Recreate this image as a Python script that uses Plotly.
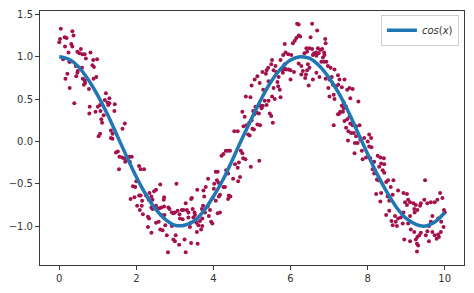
import plotly.graph_objects as go

# Smooth reference curve
line_x = [0, 0.25, 0.5, 0.75, 1.0, 1.25, 1.5, 1.75, 2.0, 2.25, 2.5, 2.75, 3.0, 3.25, 3.5, 3.75,
          4.0, 4.25, 4.5, 4.75, 5.0, 5.25, 5.5, 5.75, 6.0, 6.25, 6.5, 6.75, 7.0, 7.25, 7.5, 7.75,
          8.0, 8.25, 8.5, 8.75, 9.0, 9.25, 9.5, 9.75, 10.0]
line_y = [1.00, 0.97, 0.88, 0.73, 0.54, 0.32, 0.07, -0.18, -0.42, -0.63, -0.80, -0.92, -0.99, -0.99,
          -0.94, -0.82, -0.65, -0.45, -0.21, 0.04, 0.28, 0.51, 0.71, 0.86, 0.96, 1.00, 0.98, 0.89,
          0.75, 0.57, 0.35, 0.10, -0.15, -0.39, -0.60, -0.78, -0.91, -0.98, -1.00, -0.95, -0.84]

# Noisy samples
pts = [
(0.04,1.33),(0.02,1.21),(0.00,1.17),(0.14,1.23),(0.19,1.22),(0.34,1.30),(0.37,1.25),(0.15,1.12),(0.31,1.15),(0.34,1.12),
(0.24,1.05),(0.47,1.06),(0.52,1.04),(0.56,1.09),(0.60,1.03),(0.66,1.03),(0.81,1.05),(0.10,0.97),(0.26,0.94),(0.28,0.94),
(0.43,0.89),(0.69,0.98),(0.88,0.96),(0.98,0.97),(0.86,0.90),(0.90,0.88),(0.59,0.87),(0.48,0.83),(0.47,0.81),(0.21,0.80),
(0.44,0.77),(0.61,0.74),(0.66,0.72),(0.16,0.74),(0.89,0.74),(0.96,0.76),(0.64,0.67),(0.67,0.69),(0.77,0.62),(0.27,0.63),
(1.21,0.57),(1.30,0.51),(1.18,0.49),(1.25,0.46),(1.30,0.45),(1.27,0.43),(1.44,0.44),(0.39,0.45),(0.79,0.41),(0.78,0.33),
(1.00,0.41),(1.06,0.43),(0.94,0.35),(1.07,0.36),(1.15,0.31),(1.09,0.26),(1.11,0.22),(1.43,0.36),(1.70,0.21),(1.64,0.15),
(1.34,0.13),(1.38,0.09),(1.34,0.04),(1.38,0.03),(1.06,0.09),(1.02,0.06),
(1.47,-0.13),(1.52,-0.12),(1.56,-0.18),(1.63,-0.19),(1.68,-0.20),(1.76,-0.22),(1.82,-0.18),(1.88,-0.18),(1.71,-0.24),(1.83,-0.24),
(1.55,-0.33),(2.07,-0.29),(2.11,-0.33),(2.20,-0.33),(1.91,-0.53),(1.97,-0.54),(2.00,-0.47),(1.85,-0.68),(1.95,-0.66),(2.07,-0.64),
(2.11,-0.64),(2.02,-0.76),(2.14,-0.76),(2.15,-0.70),(2.09,-0.81),(2.17,-0.86),(2.25,-0.64),(2.34,-0.61),(2.39,-0.65),(2.42,-0.69),
(2.32,-0.69),(2.51,-0.57),(2.62,-0.51),(2.46,-0.59),(2.39,-0.78),(2.42,-0.80),(2.51,-0.76),(2.55,-0.80),(2.60,-0.79),(2.65,-0.78),
(2.71,-0.69),(2.72,-0.66),(2.72,-0.77),(2.30,-0.89),(2.33,-0.91),(2.30,-1.01),(2.39,-1.08),(2.51,-0.96),(2.58,-0.95),(2.65,-0.87),
(2.73,-0.87),(2.62,-1.04),(2.68,-1.05),(2.75,-0.99),(2.79,-1.11),(2.92,-1.00),(3.00,-0.84),(2.83,-0.78),(2.86,-0.80),(2.92,-0.84),
(2.96,-0.85),(2.82,-1.31),(2.96,-1.16),(3.00,-1.18),(3.11,-1.22),(3.02,-1.11),(3.04,-0.50),(3.07,-0.82),(3.12,-0.86),(3.18,-0.81),
(3.22,-0.81),(3.28,-0.73),(3.31,-0.81),(3.35,-0.84),(3.35,-0.90),(3.39,-1.01),(3.41,-0.96),(3.42,-0.68),(3.25,-1.16),(3.28,-1.31),
(3.42,-1.20),(3.13,-0.91),(3.20,-0.92),
(3.44,-0.67),(3.46,-0.80),(3.51,-0.84),(3.52,-0.87),(3.48,-0.90),(3.56,-0.96),(3.57,-1.07),(3.61,-0.99),(3.65,-0.94),(3.68,-1.04),
(3.71,-1.00),(3.71,-0.91),(3.78,-0.84),(3.70,-0.80),(3.73,-0.76),(3.59,-1.21),(3.58,-0.57),(3.74,-0.58),(3.76,-0.65),(3.80,-0.54),
(3.86,-0.44),(3.85,-0.77),(3.88,-0.88),(3.94,-0.95),(3.97,-0.97),(3.91,-0.81),(3.98,-0.67),(4.01,-0.56),(4.02,-0.50),(4.06,-0.36),
(4.11,-0.36),(4.09,-0.46),(4.13,-0.49),(4.14,-0.65),(4.17,-0.63),(4.06,-0.70),(4.11,-0.85),(4.17,-0.84),(4.21,-0.17),(4.26,-0.15),
(4.32,-0.11),(4.37,-0.11),(4.43,-0.11),(4.33,-0.34),(4.38,-0.38),(4.26,-0.54),(4.30,-0.54),(4.40,-0.64),(4.44,-0.65),(4.38,-0.68),
(4.51,-0.44),(4.56,-0.27),(4.63,-0.31),(4.66,-0.25),(4.71,-0.11),(4.75,-0.14),(4.77,-0.20),(4.83,-0.21),(4.69,-0.42),(4.64,-0.47),
(4.97,-0.30),(5.19,-0.23),
(4.54,0.12),(4.63,0.12),(4.78,0.18),(4.86,0.19),(4.93,0.22),(4.99,0.25),(5.01,0.15),(4.90,0.08),(4.94,0.07),(5.03,0.36),
(5.06,0.32),(5.12,0.34),(5.18,0.33),(5.09,0.41),(5.22,0.42),(5.25,0.39),(5.28,0.42),(5.33,0.48),(5.43,0.48),(5.38,0.43),
(5.46,0.33),(5.50,0.30),(5.54,0.22),(5.14,0.20),(5.21,0.19),(5.05,0.14),(4.75,0.35),(4.81,0.29),(4.84,0.53),(4.96,0.52),
(4.99,0.66),(5.07,0.73),(5.14,0.77),(5.20,0.69),(5.27,0.82),(5.29,0.61),(5.36,0.80),(5.38,0.84),(5.42,0.87),(5.52,0.96),
(5.50,0.91),(5.43,0.71),(5.56,0.63),(5.52,0.53),(5.59,0.50),(5.66,0.70),(5.69,0.76),(5.68,0.65),(5.72,0.61),(5.74,0.52),
(5.56,0.84),(5.61,0.89),(5.63,0.82),
(5.76,0.85),(5.81,0.85),(5.85,0.86),(5.89,0.85),(5.95,0.85),(6.00,0.84),(5.80,0.81),(5.85,0.91),(5.74,0.96),(5.81,1.02),
(5.85,1.15),(5.87,1.05),(5.94,1.03),(6.02,1.02),(6.06,1.16),(6.11,1.19),(6.15,1.22),(6.21,1.25),(6.25,1.24),(6.17,1.39),
(6.21,1.38),(6.09,0.82),(6.00,0.73),(6.28,0.79),(6.28,0.89),(6.21,0.92),(6.32,0.83),(6.38,0.75),(6.40,0.79),(6.43,0.84),
(6.49,0.87),(6.56,1.39),(6.52,1.23),(6.41,1.10),(6.36,1.04),(6.43,1.06),(6.49,1.10),(6.56,1.09),(6.61,1.04),(6.67,1.05),
(6.71,1.10),(6.73,1.04),(6.77,1.08),(6.82,1.09),(6.87,1.05),(6.88,1.02),(6.90,1.21),(6.91,1.16),(6.69,1.31),(6.58,1.02),
(6.64,1.03),(6.67,1.01),(6.45,0.91),(6.47,0.66),(6.58,0.73),(6.67,0.81),(6.80,0.94),(6.84,0.99),(6.93,0.94),(6.97,0.89),
(7.04,0.87),(7.01,0.73),(7.07,0.76),(7.14,0.85),(7.23,0.78),(7.10,0.67),(7.18,0.65),(7.12,0.19),(7.23,0.32),(7.27,0.73),
(7.29,0.35),(6.91,0.74),(6.75,0.76),(6.87,0.94),(6.98,0.63),(7.01,0.53),(7.12,0.55),(7.14,0.50),(7.24,0.67),(7.27,0.33),
(7.33,0.64),(7.40,0.73),(7.47,0.61),(7.53,0.63),(7.61,0.62),(7.55,0.51),(7.76,0.47),(7.38,0.46),(7.33,0.42),(7.38,0.39),
(7.44,0.41),(7.36,0.35),(7.53,0.29),(7.47,0.26),(7.40,0.24),(7.55,0.21),(7.61,0.19),(7.70,0.18),(7.79,0.19),(7.44,0.16),
(7.50,0.12),(7.57,0.10),(7.64,0.10),(7.70,0.06),(7.49,0.01),(7.67,-0.02),(7.74,-0.02),(7.81,0.02),(7.91,0.04),(8.04,0.08),
(8.09,0.04),(8.00,0.00),(8.04,-0.06),(8.10,-0.07),
(7.66,-0.14),(7.85,-0.11),(7.87,-0.21),(7.96,-0.19),(8.07,-0.20),(8.13,-0.25),(8.17,-0.24),(8.26,-0.17),(8.33,-0.19),(8.42,-0.20),
(8.35,-0.26),(8.43,-0.27),(8.13,-0.33),(8.19,-0.34),(8.17,-0.38),(8.24,-0.45),(8.28,-0.46),(8.39,-0.34),(8.43,-0.37),(8.30,-0.30),
(8.48,-0.48),(8.53,-0.46),(8.67,-0.46),(8.60,-0.54),(8.22,-0.62),(8.35,-0.61),(8.33,-0.71),(8.52,-0.65),(8.56,-0.70),(8.65,-0.63),
(8.79,-0.58),(8.93,-0.61),(9.02,-0.62),(9.05,-0.69),(8.97,-0.72),(9.02,-0.75),(9.10,-0.72),(9.19,-0.73),(9.25,-0.75),(9.38,-0.73),
(9.47,-0.69),(9.49,-0.46),(9.55,-0.73),(9.64,-0.72),(9.74,-0.72),(9.81,-0.69),(9.88,-0.61),(9.94,-0.67),(9.98,-0.81),(10.00,-0.84),
(9.91,-0.95),(9.97,-1.01),(9.90,-1.07),(9.83,-1.10),(9.85,-1.13),(9.79,-1.15),(9.74,-1.11),(9.68,-1.07),(9.59,-1.18),(9.55,-1.06),
(9.51,-1.11),(9.38,-1.08),(9.34,-1.11),(9.29,-1.13),(9.25,-1.16),(9.21,-1.07),(9.12,-1.04),(9.10,-1.18),(8.95,-1.16),(9.05,-0.97),
(9.10,-0.88),(9.22,-0.84),(9.29,-0.81),(9.36,-0.76),(9.21,-0.80),(8.93,-0.84),(8.86,-0.90),(8.79,-0.91),(8.73,-0.95),(8.76,-1.00),
(8.91,-0.97),(8.65,-0.99),(8.62,-0.94),(8.71,-0.88),(8.56,-0.82),(8.48,-0.87),(9.28,-1.21),(9.31,-1.23),(9.28,-1.30),(9.59,-1.00),
(9.68,-0.88),(9.64,-0.95),(9.83,-0.91),
]
scatter_x = [p[0] for p in pts]
scatter_y = [p[1] for p in pts]

x_ticks = [0, 2, 4, 6, 8, 10]
y_ticks = [-1.0, -0.5, 0.0, 0.5, 1.0, 1.5]

fig = go.Figure()
fig.add_trace(go.Scatter(
    x=scatter_x, y=scatter_y, mode="markers", showlegend=False,
    marker=dict(size=4, color="#A3124D", line=dict(width=0)),
))
fig.add_trace(go.Scatter(
    x=line_x, y=line_y, mode="lines", name="<i>cos</i>(<i>x</i>)",
    line=dict(color="#1f77b4", width=3.5, shape="spline"),
))

axis_common = dict(
    showline=True, mirror=True, linecolor="#3a3a3a", linewidth=1,
    showgrid=False, zeroline=False,
    ticks="outside", ticklen=4, tickwidth=1, tickcolor="#3a3a3a",
    tickfont=dict(family="DejaVu Sans", size=10, color="#333333"),
)
fig.update_xaxes(range=[-0.5, 10.5], tickvals=x_ticks, ticktext=[str(v) for v in x_ticks], **axis_common)
fig.update_yaxes(range=[-1.46, 1.54], tickvals=y_ticks, tickformat=".1f", **axis_common)

fig.update_layout(
    width=474, height=293,
    margin=dict(l=37, r=9, t=10, b=23),
    paper_bgcolor="white", plot_bgcolor="white",
    font=dict(family="DejaVu Sans", size=10, color="#333333"),
    legend=dict(
        x=0.988, y=0.985, xanchor="right", yanchor="top",
        bgcolor="white", bordercolor="#d0d0d0", borderwidth=1,
        font=dict(family="DejaVu Sans", size=10, color="#333333"),
        itemwidth=30, tracegroupgap=0,
    ),
)

fig.write_html("out.html")
